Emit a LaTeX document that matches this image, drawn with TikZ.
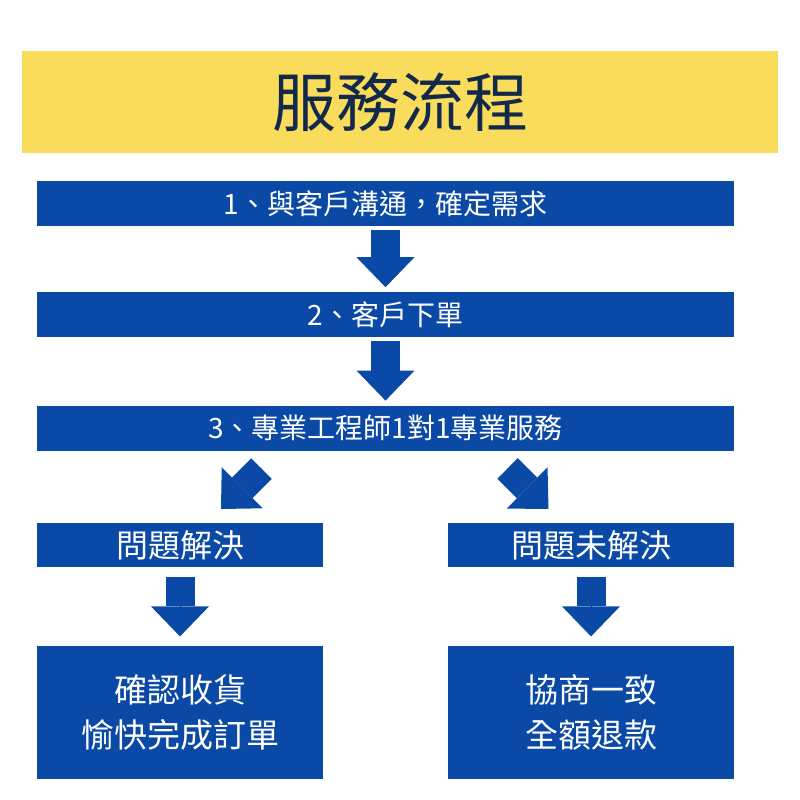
\documentclass[tikz,border=0pt]{standalone}
\usepackage{fontspec}
\setmainfont{Noto Sans CJK TC}
\usetikzlibrary{positioning,arrows.meta}
\definecolor{barblue}{RGB}{11,73,166}
\definecolor{titleyellow}{RGB}{249,220,92}
\definecolor{titlenavy}{RGB}{19,41,75}
\begin{document}
\begin{tikzpicture}[x=1pt, y=1pt, auto]
    % Styles
    \tikzstyle{titlebar} = [rectangle, fill=titleyellow, text=titlenavy, inner sep=0pt,
        minimum width=756pt, minimum height=102pt, font=\fontsize{64}{70}\selectfont]
    \tikzstyle{bar} = [rectangle, fill=barblue, text=white, inner sep=0pt,
        minimum width=697pt, minimum height=45pt, font=\fontsize{28}{32}\selectfont]
    \tikzstyle{halfbar} = [bar, minimum width=286pt, minimum height=44pt,
        font=\fontsize{32}{36}\selectfont]
    \tikzstyle{result} = [rectangle, fill=barblue, text=white, inner sep=0pt, align=center,
        minimum width=286pt, minimum height=133pt, font=\fontsize{33}{45}\selectfont]
    \tikzstyle{fat} = [barblue, line width=29pt,
        preaction={draw, -, shorten >=15pt},
        -{Triangle[width=58pt, length=30pt, line width=0pt]}]

    \useasboundingbox (0,0) rectangle (800,-800);

    % Nodes
    \node [titlebar] (title) at (400,-102) {服務流程};
    \node [bar] (contact) at (385.5,-203.5) {1、與客戶溝通，確定需求};
    \node [bar, below=66pt of contact] (order) {2、客戶下單};
    \node [bar, below=68pt of order] (service) {3、專業工程師1對1專業服務};
    \node [halfbar, below=72pt of service.south west, anchor=north west] (solved) {問題解決};
    \node [halfbar, below=72pt of service.south east, anchor=north east] (unsolved) {問題未解決};
    \node [result, below=78pt of solved] (done) {確認收貨\\愉快完成訂單};
    \node [result, below=78pt of unsolved] (refund) {協商一致\\全額退款};

    % Arrows
    \draw [fat] ([yshift=-3.5pt]contact.south) -- ([yshift=5pt]order.north);
    \draw [fat] ([yshift=-3.5pt]order.south) -- ([yshift=5pt]service.north);
    \draw [fat] ([xshift=-124pt, yshift=-17.5pt]service.south) -- ([xshift=41pt, yshift=14pt]solved.north);
    \draw [fat] ([xshift=122pt, yshift=-17.5pt]service.south) -- ([xshift=-42.5pt, yshift=14pt]unsolved.north);
    \draw [fat] ([yshift=-10pt]solved.south) -- ([yshift=9pt]done.north);
    \draw [fat] ([yshift=-10pt]unsolved.south) -- ([yshift=9pt]refund.north);
\end{tikzpicture}
\end{document}
